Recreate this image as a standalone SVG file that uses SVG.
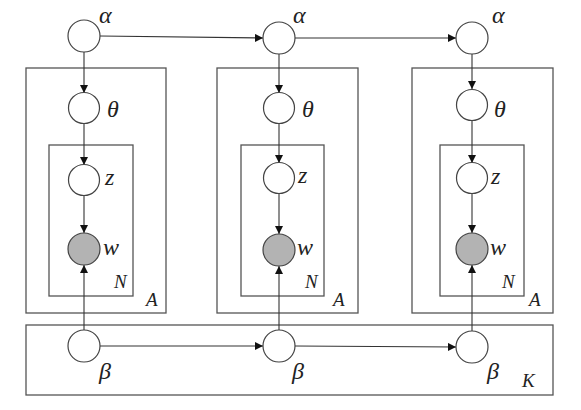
<svg xmlns="http://www.w3.org/2000/svg" width="581" height="410" viewBox="0 0 581 410">
<style>
.plate{fill:none;stroke:#555;stroke-width:1.3}
.node{fill:#fff;stroke:#444;stroke-width:1.2}
.obs{fill:#b3b3b3;stroke:#444;stroke-width:1.2}
.edge{fill:none;stroke:#333;stroke-width:1.1}
.t{font-family:'Liberation Serif',serif;font-style:italic;fill:#222;font-size:24px}
.p{font-family:'Liberation Serif',serif;font-style:italic;fill:#222;font-size:19px}
</style>
<defs>
<marker id="arr" markerUnits="userSpaceOnUse" markerWidth="10" markerHeight="8" refX="8" refY="4" orient="auto">
<path d="M0,0 L8,4 L0,8 Z" fill="#111"/>
</marker>
</defs>
<rect width="581" height="410" fill="#fff"/>
<g id="plates">
<rect class="plate" x="26" y="68" width="140" height="245"/>
<rect class="plate" x="49" y="145" width="84" height="151"/>
<rect class="plate" x="217" y="68" width="141" height="245"/>
<rect class="plate" x="241" y="145" width="83" height="151"/>
<rect class="plate" x="412" y="68" width="141" height="245"/>
<rect class="plate" x="440" y="145" width="84" height="151"/>
<rect class="plate" x="26" y="325" width="527" height="70"/>
<text class="p" x="114" y="288">N</text>
<text class="p" x="146" y="306">A</text>
<text class="p" x="305" y="288">N</text>
<text class="p" x="333" y="306">A</text>
<text class="p" x="502" y="288">N</text>
<text class="p" x="529" y="306">A</text>
<text class="p" x="522" y="387">K</text>
</g>
<g id="connectors">
<line class="edge" x1="100" y1="36" x2="263" y2="38" marker-end="url(#arr)"/>
<line class="edge" x1="295" y1="38" x2="456" y2="38" marker-end="url(#arr)"/>
<line class="edge" x1="84" y1="52" x2="84" y2="93" marker-end="url(#arr)"/>
<line class="edge" x1="84" y1="124" x2="84" y2="165" marker-end="url(#arr)"/>
<line class="edge" x1="84" y1="195" x2="84" y2="233" marker-end="url(#arr)"/>
<line class="edge" x1="84" y1="330" x2="84" y2="265" marker-end="url(#arr)"/>
<line class="edge" x1="279" y1="54" x2="279" y2="93" marker-end="url(#arr)"/>
<line class="edge" x1="279" y1="124" x2="279" y2="163" marker-end="url(#arr)"/>
<line class="edge" x1="279" y1="193" x2="279" y2="234" marker-end="url(#arr)"/>
<line class="edge" x1="279" y1="330" x2="279" y2="266" marker-end="url(#arr)"/>
<line class="edge" x1="472" y1="54" x2="472" y2="89" marker-end="url(#arr)"/>
<line class="edge" x1="472" y1="121" x2="472" y2="163" marker-end="url(#arr)"/>
<line class="edge" x1="472" y1="193" x2="472" y2="233" marker-end="url(#arr)"/>
<line class="edge" x1="472" y1="331" x2="472" y2="265" marker-end="url(#arr)"/>
<line class="edge" x1="100" y1="346" x2="263" y2="346" marker-end="url(#arr)"/>
<line class="edge" x1="295" y1="346" x2="456" y2="347" marker-end="url(#arr)"/>
</g>
<g id="alpha1"><circle class="node" cx="84" cy="36" r="16"/><text class="t" x="99" y="23">α</text></g>
<g id="alpha2"><circle class="node" cx="279" cy="38" r="16"/><text class="t" x="293" y="23">α</text></g>
<g id="alpha3"><circle class="node" cx="472" cy="38" r="16"/><text class="t" x="492" y="23">α</text></g>
<g id="theta1"><circle class="node" cx="84" cy="108" r="15.5"/><text class="t" x="107" y="117">θ</text></g>
<g id="theta2"><circle class="node" cx="279" cy="108" r="15.5"/><text class="t" x="302" y="117">θ</text></g>
<g id="theta3"><circle class="node" cx="472" cy="105" r="15.5"/><text class="t" x="494" y="117">θ</text></g>
<g id="z1"><circle class="node" cx="84" cy="180" r="15.5"/><text class="t" x="105" y="185">z</text></g>
<g id="z2"><circle class="node" cx="279" cy="178" r="15.5"/><text class="t" x="298" y="183">z</text></g>
<g id="z3"><circle class="node" cx="472" cy="178" r="15.5"/><text class="t" x="491" y="184">z</text></g>
<g id="w1"><circle class="obs" cx="84" cy="249" r="16"/><text class="t" x="103" y="255">w</text></g>
<g id="w2"><circle class="obs" cx="279" cy="250" r="16"/><text class="t" x="297" y="255">w</text></g>
<g id="w3"><circle class="obs" cx="472" cy="249" r="16"/><text class="t" x="490" y="255">w</text></g>
<g id="beta1"><circle class="node" cx="84" cy="346" r="16"/><text class="t" x="99" y="379">β</text></g>
<g id="beta2"><circle class="node" cx="279" cy="346" r="16"/><text class="t" x="292" y="379">β</text></g>
<g id="beta3"><circle class="node" cx="472" cy="347" r="16"/><text class="t" x="487" y="379">β</text></g>
</svg>
